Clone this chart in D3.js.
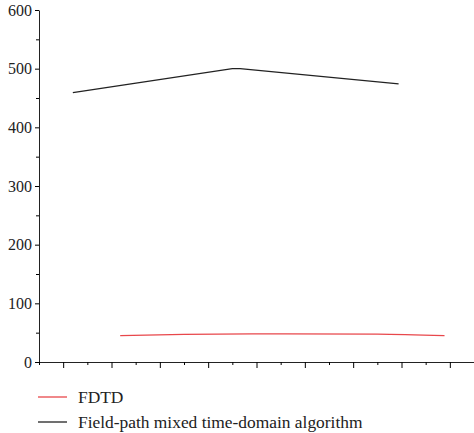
<!DOCTYPE html>
<html>
<head>
<meta charset="UTF-8">
<script src="https://d3js.org/d3.v7.min.js"></script>
<style>
  body { margin: 0; background: #fff; }
  text { font-family: "Liberation Serif", serif; }
</style>
</head>
<body>
<svg width="474" height="433"></svg>
<script>
// data
var fdtdX = [1.18, 2.5, 4.5, 6.5, 7.89];
var fdtdY = [45, 47, 48, 47.5, 45];
var fieldX = [0.2, 3.5, 3.66, 6.94];
var fieldY = [459, 500, 500, 474];
var yTicks = [0, 100, 200, 300, 400, 500, 600];
var xTicks = [0, 1, 2, 3, 4, 5, 6, 7, 8];

var svg = d3.select("svg");
var x = d3.scaleLinear().domain([-0.5, 8.5]).range([39, 474]);
var y = d3.scaleLinear().domain([0, 600]).range([362, 10]);

// y axis
var ya = svg.append("g").attr("transform", "translate(39,0)")
  .call(d3.axisLeft(y).tickValues(yTicks).tickSize(4).tickSizeOuter(0));
ya.select(".domain").attr("stroke", "#222");
ya.selectAll("text").attr("font-size", 16).attr("fill", "#222").attr("x", -7);
svg.append("g").attr("transform", "translate(39,0)")
  .call(d3.axisLeft(y).tickValues(d3.range(50, 600, 100)).tickSize(3).tickFormat(""))
  .select(".domain").remove();

// x axis
var xa = svg.append("g").attr("transform", "translate(0,362)")
  .call(d3.axisBottom(x).tickValues(xTicks).tickSize(6).tickSizeOuter(0).tickFormat(""));
xa.select(".domain").attr("stroke", "#222");
svg.append("g").attr("transform", "translate(0,362)")
  .call(d3.axisBottom(x).tickValues(d3.range(-0.5, 8.6, 1)).tickSize(3).tickFormat(""))
  .select(".domain").remove();

var line = d3.line().x(function(d){ return x(d[0]); }).y(function(d){ return y(d[1]); });
var lineCurve = d3.line().curve(d3.curveMonotoneX).x(function(d){ return x(d[0]); }).y(function(d){ return y(d[1]); });

svg.append("path").datum(d3.zip(fdtdX, fdtdY)).attr("d", lineCurve)
  .attr("fill", "none").attr("stroke", "#e8474b").attr("stroke-width", 1.3);
svg.append("path").datum(d3.zip(fieldX, fieldY)).attr("d", line)
  .attr("fill", "none").attr("stroke", "#222").attr("stroke-width", 1.3);

// legend
var legend = [["FDTD", "#e8474b"], ["Field-path mixed time-domain algorithm", "#222"]];
legend.forEach(function(l, i) {
  var ly = 397 + i * 25;
  svg.append("line").attr("x1", 38).attr("x2", 67).attr("y1", ly).attr("y2", ly)
    .attr("stroke", l[1]).attr("stroke-width", 1.3);
  svg.append("text").attr("x", 78).attr("y", ly + 6).attr("font-size", 17.4)
    .attr("fill", "#222").text(l[0]);
});
</script>
</body>
</html>
